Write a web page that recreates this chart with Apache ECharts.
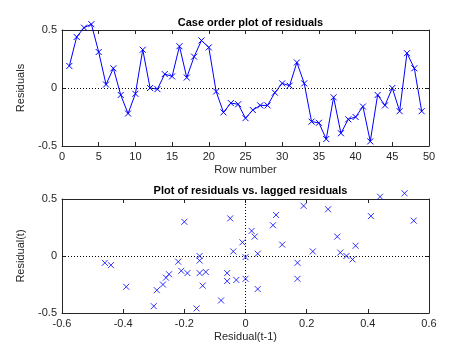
<!DOCTYPE html>
<html><head><meta charset="utf-8">
<script src="https://cdn.jsdelivr.net/npm/echarts@6/dist/echarts.min.js"></script>
<style>html,body{margin:0;padding:0;background:#fff}#c{width:474px;height:355px}</style>
</head><body><div id="c"></div>
<script>
// Residuals by row number (1..49)
const rowNumbers = [1,2,3,4,5,6,7,8,9,10,11,12,13,14,15,16,17,18,19,20,21,22,23,24,25,26,27,28,29,30,31,32,33,34,35,36,37,38,39,40,41,42,43,44,45,46,47,48,49];
const residuals = [0.19,0.44,0.52,0.55,0.31,0.03,0.17,-0.06,-0.22,-0.05,
  0.33,0.00,-0.01,0.12,0.10,0.36,0.09,0.27,0.41,0.35,
  -0.03,-0.21,-0.13,-0.14,-0.26,-0.19,-0.15,-0.15,-0.04,0.04,
  0.02,0.22,0.04,-0.29,-0.30,-0.44,-0.08,-0.39,-0.27,-0.25,
  -0.16,-0.46,-0.06,-0.15,0.00,-0.20,0.30,0.17,-0.20];
const titles = ['Case order plot of residuals', 'Plot of residuals vs. lagged residuals'];
const axisNames = {topX:'Row number', topY:'Residuals', botX:'Residual(t-1)', botY:'Residual(t)'};

const caseData = rowNumbers.map((r,i)=>[r, residuals[i]]);
const lagData = [];
for (let i = 1; i < residuals.length; i++) lagData.push([residuals[i-1], residuals[i]]);

const AX = '#262626';
const FONT = 'Liberation Sans, Arial, sans-serif';
const xSym = 'path://M0 0L10 10M10 0L0 10';
function axisBase(extra){
  return Object.assign({
    axisLine:{show:true,onZero:false,lineStyle:{color:AX,width:1}},
    axisTick:{show:true,inside:true,length:4,lineStyle:{color:AX}},
    splitLine:{show:false},
    axisLabel:{color:AX,fontFamily:FONT,fontSize:11,margin:5},
    nameTextStyle:{color:AX,fontFamily:FONT,fontSize:11}
  }, extra);
}
const hidden = {axisLabel:{show:false}};
const zeroH = {silent:true,symbol:'none',label:{show:false},lineStyle:{color:'#000',type:[1,2],width:1},data:[{yAxis:0}]};
const zeroHV = {silent:true,symbol:'none',label:{show:false},lineStyle:{color:'#000',type:[1,2],width:1},data:[{yAxis:0},{xAxis:0}]};

const chart = echarts.init(document.getElementById('c'), null, {renderer:'canvas'});
chart.setOption({
  animation:false,
  backgroundColor:'#fff',
  title:[
    {text:titles[0],left:245.5,top:12,textAlign:'center',textStyle:{fontFamily:FONT,fontSize:11,fontWeight:'bold',color:'#000'}},
    {text:titles[1],left:245.5,top:180,textAlign:'center',textStyle:{fontFamily:FONT,fontSize:11,fontWeight:'bold',color:'#000'}}
  ],
  grid:[
    {left:62,top:30,width:367,height:116},
    {left:62,top:199,width:367,height:114}
  ],
  xAxis:[
    axisBase({type:'value',gridIndex:0,min:0,max:50,interval:5,name:axisNames.topX,nameLocation:'middle',nameGap:18}),
    axisBase({type:'value',gridIndex:1,min:-0.6,max:0.6,interval:0.2,name:axisNames.botX,nameLocation:'middle',nameGap:18,
      axisLabel:{color:AX,fontFamily:FONT,fontSize:11,margin:5,formatter:v=>(Math.round(v*10)/10).toString()}}),
    axisBase({type:'value',gridIndex:0,min:0,max:50,interval:5,position:'top',axisLabel:{show:false}}),
    axisBase({type:'value',gridIndex:1,min:-0.6,max:0.6,interval:0.2,position:'top',axisLabel:{show:false}})
  ],
  yAxis:[
    axisBase({type:'value',gridIndex:0,min:-0.5,max:0.5,interval:0.5,name:axisNames.topY,nameLocation:'middle',nameGap:36}),
    axisBase({type:'value',gridIndex:1,min:-0.5,max:0.5,interval:0.5,name:axisNames.botY,nameLocation:'middle',nameGap:36}),
    axisBase({type:'value',gridIndex:0,min:-0.5,max:0.5,interval:0.5,position:'right',axisLabel:{show:false}}),
    axisBase({type:'value',gridIndex:1,min:-0.5,max:0.5,interval:0.5,position:'right',axisLabel:{show:false}})
  ],
  series:[
    {type:'line',xAxisIndex:0,yAxisIndex:0,data:caseData,clip:false,
      symbol:xSym,symbolSize:6,showAllSymbol:true,
      lineStyle:{color:'#0000ff',width:1},
      itemStyle:{color:'#0000ff',borderColor:'#0000ff',borderWidth:1},
      markLine:zeroH,z:3},
    {type:'scatter',xAxisIndex:1,yAxisIndex:1,data:lagData,clip:false,
      symbol:xSym,symbolSize:6,
      itemStyle:{color:'#0000ff',borderColor:'#0000ff',borderWidth:1},
      markLine:zeroHV,z:3}
  ]
});
</script></body></html>
